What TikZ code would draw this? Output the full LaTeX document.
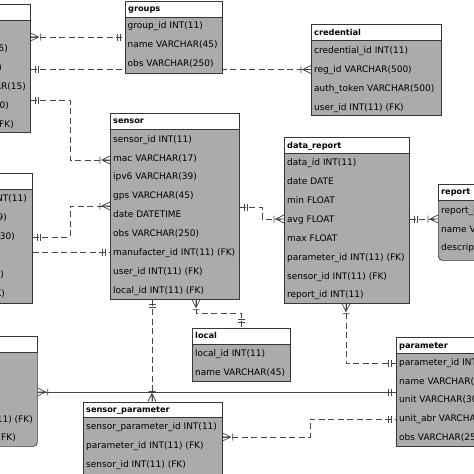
\documentclass[tikz,border=0pt]{standalone}
\usepackage{fontspec}
\setmainfont{DejaVu Sans}
\definecolor{bodyc}{RGB}{171,171,171}
\definecolor{bordc}{RGB}{55,55,55}
\definecolor{linec}{RGB}{70,70,70}
\tikzset{
  tbox/.style={draw=bordc, fill=bodyc, line width=0.7pt, inner sep=0pt, anchor=north west},
  thead/.style={draw=bordc, fill=white, line width=0.7pt, inner sep=0pt, anchor=north west},
  ttitle/.style={font=\bfseries\fontsize{8.2}{9.5}\selectfont, inner sep=0pt, anchor=west, text height=6pt, text depth=0pt},
  trow/.style={font=\fontsize{9}{10}\selectfont, inner sep=0pt, anchor=west, text height=6.5pt, text depth=0pt},
  rel/.style={draw=linec, line width=0.7pt, dash pattern=on 6pt off 3.5pt},
  idrel/.style={draw=linec, line width=0.8pt},
  pics/onemark/.style={code={\draw[linec, line width=0.7pt, solid] (5,-3.5)--(5,3.5) (8,-3.5)--(8,3.5);}},
  pics/manymark/.style={code={\draw[linec, line width=0.7pt, solid] (0,-4)--(8,0)--(0,4) (0,0)--(8,0) (10,-3.5)--(10,3.5);}},
}
\begin{document}
\begin{tikzpicture}[x=1pt,y=-1pt]
\useasboundingbox (0,0) rectangle (474,474);
\clip (0,0) rectangle (474,474);
\fill[white] (0,0) rectangle (474,474);

% ---------- table frames (named, for connector ends) ----------
\path
  coordinate (Unw) at (-100,4)
  coordinate (LMnw) at (-100,172.5)
  coordinate (LBnw) at (-100,336);

% ---------- connectors ----------
% user -> groups
\node[tbox, draw=none, fill=none, minimum width=130pt, minimum height=128pt] (U) at (Unw) {};
\node[tbox, draw=none, fill=none, minimum width=132pt, minimum height=130pt] (LM) at (LMnw) {};
\node[tbox, draw=none, fill=none, minimum width=137pt, minimum height=110pt] (LB) at (LBnw) {};
\node[tbox, draw=none, fill=none, minimum width=97pt, minimum height=72pt] (groups) at (125,0.5) {};
\node[tbox, draw=none, fill=none, minimum width=130pt, minimum height=91pt] (credential) at (311,24) {};
\node[tbox, draw=none, fill=none, minimum width=129pt, minimum height=186pt] (sensor) at (110,113) {};
\node[tbox, draw=none, fill=none, minimum width=125pt, minimum height=166pt] (dr) at (284,137) {};
\node[tbox, draw=none, fill=none, minimum width=60pt, minimum height=76pt] (report) at (438,184) {};
\node[tbox, draw=none, fill=none, minimum width=98pt, minimum height=53pt] (local) at (192,327.5) {};
\node[tbox, draw=none, fill=none, minimum width=100pt, minimum height=109pt] (parameter) at (396,337) {};
\node[tbox, draw=none, fill=none, minimum width=139pt, minimum height=90pt] (sp) at (83,401.5) {};

\draw[rel] (U.east|-0,37) -- (groups.west|-0,37);
\pic at (U.east|-0,37) {manymark};
\pic[rotate=180] at (groups.west|-0,37) {onemark};

\draw[rel] (U.east|-0,69.5) -- (credential.west|-0,69.5);
\pic at (U.east|-0,69.5) {onemark};
\pic[rotate=180] at (credential.west|-0,69.5) {manymark};

\draw[rel] (U.east|-0,100) -- (70,100) -- (70,160) -- (sensor.west|-0,160);
\pic at (U.east|-0,100) {onemark};
\pic[rotate=180] at (sensor.west|-0,160) {manymark};

\draw[rel] (LM.east|-0,237) -- (70,237) -- (70,206) -- (sensor.west|-0,206);
\pic at (LM.east|-0,237) {onemark};
\pic[rotate=180] at (sensor.west|-0,206) {manymark};

\draw[rel] (LM.east|-0,252) -- (sensor.west|-0,252);
\pic[rotate=180] at (sensor.west|-0,252) {onemark};

\draw[rel] (sensor.east|-0,207) -- (262,207) -- (262,219) -- (dr.west|-0,219);
\pic at (sensor.east|-0,207) {onemark};
\pic[rotate=180] at (dr.west|-0,219) {manymark};

\draw[rel] (dr.east|-0,219) -- (report.west|-0,219);
\pic at (dr.east|-0,219) {onemark};
\pic[rotate=180] at (report.west|-0,219) {manymark};

\draw[rel] (sensor.south-|152,0) -- (sp.north-|152,0);
\pic[rotate=-90] at (sensor.south-|152,0) {onemark};
\pic[rotate=90] at (sp.north-|152,0) {manymark};

\draw[rel] (sensor.south-|196,0) -- (196,313) -- (241,313) -- (local.north-|241,0);
\pic[rotate=-90] at (sensor.south-|196,0) {manymark};
\pic[rotate=90] at (local.north-|241,0) {onemark};

\draw[rel] (dr.south-|346,0) -- (346,363) -- (parameter.west|-0,363);
\pic[rotate=-90] at (dr.south-|346,0) {manymark};
\pic[rotate=180] at (parameter.west|-0,363) {onemark};

\draw[idrel] (LB.east|-0,392) -- (parameter.west|-0,392);
\pic at (LB.east|-0,392) {manymark};
\pic[rotate=180] at (parameter.west|-0,392) {onemark};

\draw[rel] (sp.east|-0,437) -- (310,437) -- (310,419) -- (parameter.west|-0,419);
\pic at (sp.east|-0,437) {manymark};
\pic[rotate=180] at (parameter.west|-0,419) {onemark};

% ---------- tables ----------
% top-left (user)
\node[tbox, minimum width=130pt, minimum height=128pt] (Ubody) at (Unw) {};
\node[thead, minimum width=130pt, minimum height=16pt] (Uhead) at (Unw) {};
\node[trow, anchor=east] (Ur2) at (8,48.5) {name VARCHAR(45)};
\node[trow, anchor=east] (Ur3) at (2,67) {email VARCHAR(45)};
\node[trow, anchor=east] (Ur4) at (26,86) {phone VARCHAR(15)};
\node[trow, anchor=east] (Ur5) at (9,105) {login VARCHAR(20)};
\node[trow, anchor=east] (Ur6) at (14,124) {group\_id INT(11) (FK)};

% middle-left
\node[tbox, minimum width=132pt, minimum height=130pt] (LMbody) at (LMnw) {};
\node[thead, minimum width=132pt, minimum height=16pt] (LMhead) at (LMnw) {};
\node[trow, anchor=east] (LMr1) at (27,198) {manufacter\_id INT(11)};
\node[trow, anchor=east] (LMr2) at (7,217) {name VARCHAR(39)};
\node[trow, anchor=east] (LMr3) at (15,236.5) {country VARCHAR(30)};
\node[trow, anchor=east] (LMr5) at (4,274) {site VARCHAR(99)};
\node[trow, anchor=east] (LMr6) at (5,293) {user\_id INT(11) (FK)};

% bottom-left
\node[tbox, rounded corners=4pt, minimum width=137pt, minimum height=110pt] (LBbody) at (LBnw) {};
\node[thead, minimum width=137pt, minimum height=16pt] (LBhead) at (LBnw) {};
\node[trow, anchor=east] (LBr4) at (33,419) {sensor\_id INT(11) (FK)};
\node[trow, anchor=east] (LBr5) at (16,437.5) {user\_id INT(11) (FK)};

% groups
\node[tbox, minimum width=97pt, minimum height=72pt] (groupsB) at (125,0.5) {};
\node[thead, minimum width=97pt, minimum height=16pt] (groupsH) at (125,0.5) {};
\node[ttitle] (groupsT) at (128,8.3) {groups};
\node[trow] (g1) at (127.5,25.5) {group\_id INT(11)};
\node[trow] (g2) at (127.5,44.5) {name VARCHAR(45)};
\node[trow] (g3) at (127.5,63.5) {obs VARCHAR(250)};

% credential
\node[tbox, minimum width=130pt, minimum height=91pt] (credB) at (311,24) {};
\node[thead, minimum width=130pt, minimum height=16pt] (credH) at (311,24) {};
\node[ttitle] (credT) at (314,32) {credential};
\node[trow] (c1) at (314,50) {credential\_id INT(11)};
\node[trow] (c2) at (314,69) {reg\_id VARCHAR(500)};
\node[trow] (c3) at (314,88) {auth\_token VARCHAR(500)};
\node[trow] (c4) at (314,107) {user\_id INT(11) (FK)};

% sensor
\node[tbox, minimum width=129pt, minimum height=186pt] (sensorB) at (110,113) {};
\node[thead, minimum width=129pt, minimum height=15.5pt] (sensorH) at (110,113) {};
\node[ttitle] (sensorT) at (113,120.8) {sensor};
\node[trow] (s1) at (113,139) {sensor\_id INT(11)};
\node[trow] (s2) at (113,158) {mac VARCHAR(17)};
\node[trow] (s3) at (113,176.5) {ipv6 VARCHAR(39)};
\node[trow] (s4) at (113,195.5) {gps VARCHAR(45)};
\node[trow] (s5) at (113,214) {date DATETIME};
\node[trow] (s6) at (113,233) {obs VARCHAR(250)};
\node[trow] (s7) at (113,252) {manufacter\_id INT(11) (FK)};
\node[trow] (s8) at (113,271) {user\_id INT(11) (FK)};
\node[trow] (s9) at (113,290) {local\_id INT(11) (FK)};

% data_report
\node[tbox, minimum width=125pt, minimum height=166pt] (drB) at (284,137) {};
\node[thead, minimum width=125pt, minimum height=16pt] (drH) at (284,137) {};
\node[ttitle] (drT) at (287,145) {data\_report};
\node[trow] (d1) at (287,162) {data\_id INT(11)};
\node[trow] (d2) at (287,181) {date DATE};
\node[trow] (d3) at (287,200) {min FLOAT};
\node[trow] (d4) at (287,219) {avg FLOAT};
\node[trow] (d5) at (287,238) {max FLOAT};
\node[trow] (d6) at (287,257) {parameter\_id INT(11) (FK)};
\node[trow] (d7) at (287,276) {sensor\_id INT(11) (FK)};
\node[trow] (d8) at (287,294.5) {report\_id INT(11)};

% report
\node[tbox, rounded corners=4pt, minimum width=60pt, minimum height=76pt] (reportB) at (438,184) {};
\node[thead, minimum width=60pt, minimum height=15.5pt] (reportH) at (438,184) {};
\node[ttitle] (reportT) at (441,191.8) {report};
\node[trow] (r1) at (441,210) {report\_id INT(11)};
\node[trow] (r2) at (441,229) {name VARCHAR(45)};
\node[trow] (r3) at (441,247.5) {description VARCHAR(250)};

% local
\node[tbox, minimum width=98pt, minimum height=53pt] (localB) at (192,327.5) {};
\node[thead, minimum width=98pt, minimum height=16pt] (localH) at (192,327.5) {};
\node[ttitle] (localT) at (195,335.5) {local};
\node[trow] (l1) at (195,353) {local\_id INT(11)};
\node[trow] (l2) at (195,372) {name VARCHAR(45)};

% parameter
\node[tbox, minimum width=100pt, minimum height=109pt] (paramB) at (396,337) {};
\node[thead, minimum width=100pt, minimum height=16pt] (paramH) at (396,337) {};
\node[ttitle] (paramT) at (399,345) {parameter};
\node[trow] (p1) at (399,362) {parameter\_id INT(11)};
\node[trow] (p2) at (399,381) {name VARCHAR(45)};
\node[trow] (p3) at (399,399.5) {unit VARCHAR(30)};
\node[trow] (p4) at (399,418) {unit\_abr VARCHAR(10)};
\node[trow] (p5) at (399,437) {obs VARCHAR(250)};

% sensor_parameter
\node[tbox, minimum width=139pt, minimum height=90pt] (spB) at (83,401.5) {};
\node[thead, minimum width=139pt, minimum height=15.5pt] (spH) at (83,401.5) {};
\node[ttitle] (spT) at (86,409.3) {sensor\_parameter};
\node[trow] (sp1) at (86,426) {sensor\_parameter\_id INT(11)};
\node[trow] (sp2) at (86,445) {parameter\_id INT(11) (FK)};
\node[trow] (sp3) at (86,464) {sensor\_id INT(11) (FK)};
\end{tikzpicture}
\end{document}
